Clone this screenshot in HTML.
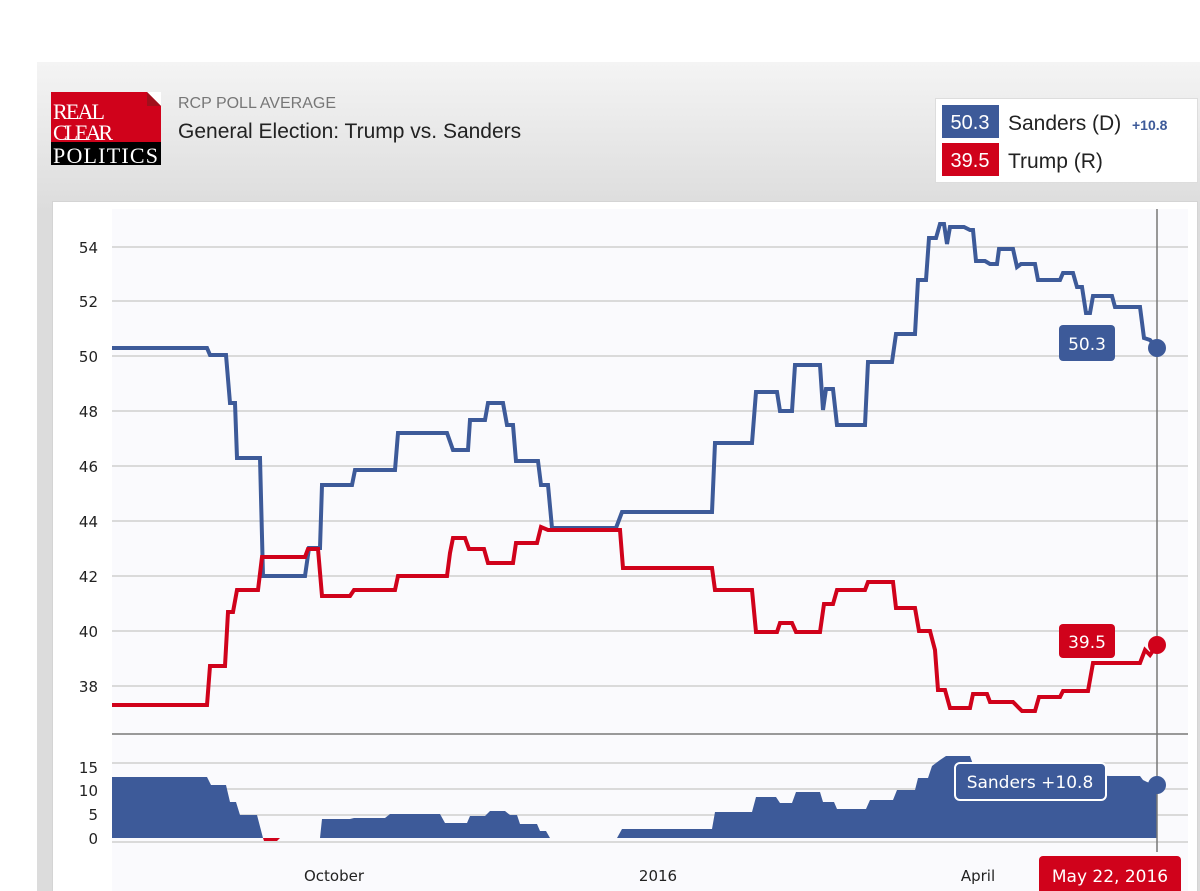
<!DOCTYPE html>
<html><head><meta charset="utf-8"><style>
body{margin:0;width:1200px;height:891px;background:#fff;overflow:hidden;font-family:"Liberation Sans",sans-serif;position:relative}
.hdr{position:absolute;left:37px;top:62px;width:1163px;height:829px;background:linear-gradient(#f4f4f4,#dcdcdc 150px,#dcdcdc)}
</style></head><body>
<div class="hdr"></div>
<svg style="position:absolute;left:0;top:0" width="1200" height="891" xmlns="http://www.w3.org/2000/svg" font-family="Liberation Sans, sans-serif">
<rect x="51" y="92" width="110" height="50" fill="#d0021b"/>
<polygon points="147,92 161,92 161,106" fill="#fff"/>
<polygon points="147,92 161,106 147,106" fill="#a0101c"/>
<rect x="51" y="142" width="110" height="23" fill="#000"/>
<text x="53" y="119" font-family="Liberation Serif,serif" font-size="22" fill="#fff" textLength="52">REAL</text>
<text x="53" y="140" font-family="Liberation Serif,serif" font-size="22" fill="#fff" textLength="60">CLEAR</text>
<text x="53" y="163" font-family="Liberation Serif,serif" font-size="22" fill="#fff" textLength="105">POLITICS</text>
<text x="178" y="108" font-size="16" fill="#777">RCP POLL AVERAGE</text>
<text x="178" y="138" font-size="21" fill="#222">General Election: Trump vs. Sanders</text>
<rect x="935.5" y="98.5" width="262" height="84" fill="#fff" stroke="#ddd"/>
<rect x="942" y="105" width="57" height="33" fill="#3d5a99"/>
<text x="970" y="129" font-size="20" fill="#fff" text-anchor="middle">50.3</text>
<text x="1008" y="130" font-size="21" fill="#222">Sanders (D)</text>
<text x="1132" y="130" font-size="14" font-weight="bold" fill="#3d5a99">+10.8</text>
<rect x="942" y="143" width="57" height="33" fill="#d0021b"/>
<text x="970" y="167" font-size="20" fill="#fff" text-anchor="middle">39.5</text>
<text x="1008" y="168" font-size="21" fill="#222">Trump (R)</text>
<rect x="52.5" y="201.5" width="1145" height="700" fill="#fff" stroke="#d4d4d4"/>
<rect x="112" y="209" width="1076" height="682" fill="#fafafd"/>
<g stroke="#dadada" stroke-width="2">
<line x1="112" x2="1188" y1="247" y2="247"/><line x1="112" x2="1188" y1="301" y2="301"/>
<line x1="112" x2="1188" y1="356" y2="356"/><line x1="112" x2="1188" y1="411" y2="411"/>
<line x1="112" x2="1188" y1="466" y2="466"/><line x1="112" x2="1188" y1="521" y2="521"/>
<line x1="112" x2="1188" y1="576" y2="576"/><line x1="112" x2="1188" y1="631" y2="631"/>
<line x1="112" x2="1188" y1="686" y2="686"/>
<line x1="112" x2="1188" y1="763" y2="763"/><line x1="112" x2="1188" y1="789" y2="789"/>
<line x1="112" x2="1188" y1="815" y2="815"/><line x1="112" x2="1188" y1="842" y2="842"/>
</g>
<line x1="112" x2="1188" y1="734" y2="734" stroke="#999" stroke-width="2"/>
<g font-size="15" fill="#222" text-anchor="end" font-family="DejaVu Sans, sans-serif">
<text x="98" y="253">54</text><text x="98" y="307">52</text><text x="98" y="362">50</text>
<text x="98" y="417">48</text><text x="98" y="472">46</text><text x="98" y="527">44</text>
<text x="98" y="582">42</text><text x="98" y="637">40</text><text x="98" y="692">38</text>
<text x="98" y="773">15</text><text x="98" y="796">10</text><text x="98" y="820">5</text><text x="98" y="844">0</text>
</g>
<g font-size="15" fill="#222" text-anchor="middle" font-family="DejaVu Sans, sans-serif">
<text x="334" y="881">October</text><text x="658" y="881">2016</text><text x="978" y="881">April</text>
</g>
<polygon fill="#3d5a99" points="112,838 112,777 207,777 211,785 226,785 230,802 236,802 240,815 257,815 263,838"/>
<polygon fill="#3d5a99" points="320,838 322,819 350,819 354,818 385,818 390,814 440,814 445,823 467,823 470,816 485,816 490,811 505,811 510,815 517,815 520,824 537,824 540,831 546,831 550,838"/>
<polygon fill="#3d5a99" points="617,838 622,829 712,829 715,812 752,812 756,797 776,797 780,803 792,803 796,792 820,792 823,802 834,802 837,809 866,809 870,800 893,800 897,790 915,790 918,778 928,778 932,766 940,760 946,756 970,756 975,770 1110,776 1140,776 1143,780 1147,782 1157,785 1157,838"/>
<polygon fill="#d0021b" points="263,838 280,838 277,841 264,841"/>
<line x1="1157" x2="1157" y1="209" y2="852" stroke="#777" stroke-width="1.5"/>
<polyline fill="none" stroke="#3d5a99" stroke-width="4" points="112,348 207,348 210,355 226,355 230,403 235,403 237,458 260,458 263,576 305,576 309,548 320,548 322,485 352,485 355,470 395,470 398,433 447,433 453,450 468,450 470,420 485,420 488,403 503,403 507,425 513,425 516,461 538,461 541,485 548,485 552,528 616,528 622,512 712,512 715,443 752,443 756,392 777,392 780,411 792,411 795,365 820,365 823,410 826,389 833,389 837,425 865,425 868,362 892,362 896,334 915,334 918,280 926,280 929,238 936,238 940,224 944,224 947,244 950,227 964,227 970,230 973,230 976,261 985,261 990,264 997,264 999,249 1013,249 1017,267 1021,264 1035,264 1038,280 1060,280 1063,273 1073,273 1077,287 1082,287 1086,313 1090,313 1093,296 1112,296 1115,307 1140,307 1144,338 1150,340 1157,348"/>
<polyline fill="none" stroke="#d0021b" stroke-width="4" points="112,705 207,705 210,666 225,666 228,612 233,612 237,590 258,590 262,557 305,557 308,549 318,549 322,596 350,596 354,590 395,590 398,576 447,576 450,553 453,538 465,538 469,549 484,549 488,563 513,563 516,543 537,543 541,527 548,530 620,530 623,568 712,568 715,590 752,590 756,632 777,632 780,623 792,623 796,632 820,632 824,604 833,604 837,590 865,590 868,582 893,582 896,608 915,608 919,631 930,631 935,650 938,690 945,690 950,708 970,708 973,694 987,694 990,702 1013,702 1017,706 1022,711 1035,711 1039,697 1060,697 1063,691 1088,691 1093,663 1140,663 1145,650 1150,655 1157,645"/>
<circle cx="1157" cy="348" r="9" fill="#3d5a99"/>
<circle cx="1157" cy="645" r="9" fill="#d0021b"/>
<circle cx="1157" cy="785" r="9" fill="#3d5a99"/>
<g font-family="DejaVu Sans, sans-serif">
<rect x="1059" y="325" width="56" height="36" rx="4" fill="#3d5a99"/>
<text x="1087" y="350" font-size="17" fill="#fff" text-anchor="middle">50.3</text>
<rect x="1059" y="624" width="56" height="34" rx="4" fill="#d0021b"/>
<text x="1087" y="648" font-size="17" fill="#fff" text-anchor="middle">39.5</text>
<rect x="955" y="763" width="151" height="37" rx="5" fill="#3d5a99" stroke="#fff" stroke-width="2"/>
<text x="1030" y="788" font-size="17" fill="#fff" text-anchor="middle">Sanders +10.8</text>
<rect x="1039" y="856" width="142" height="40" rx="4" fill="#d0021b"/>
<text x="1110" y="882" font-size="17" fill="#fff" text-anchor="middle">May 22, 2016</text>
</g>
</svg>
</body></html>
